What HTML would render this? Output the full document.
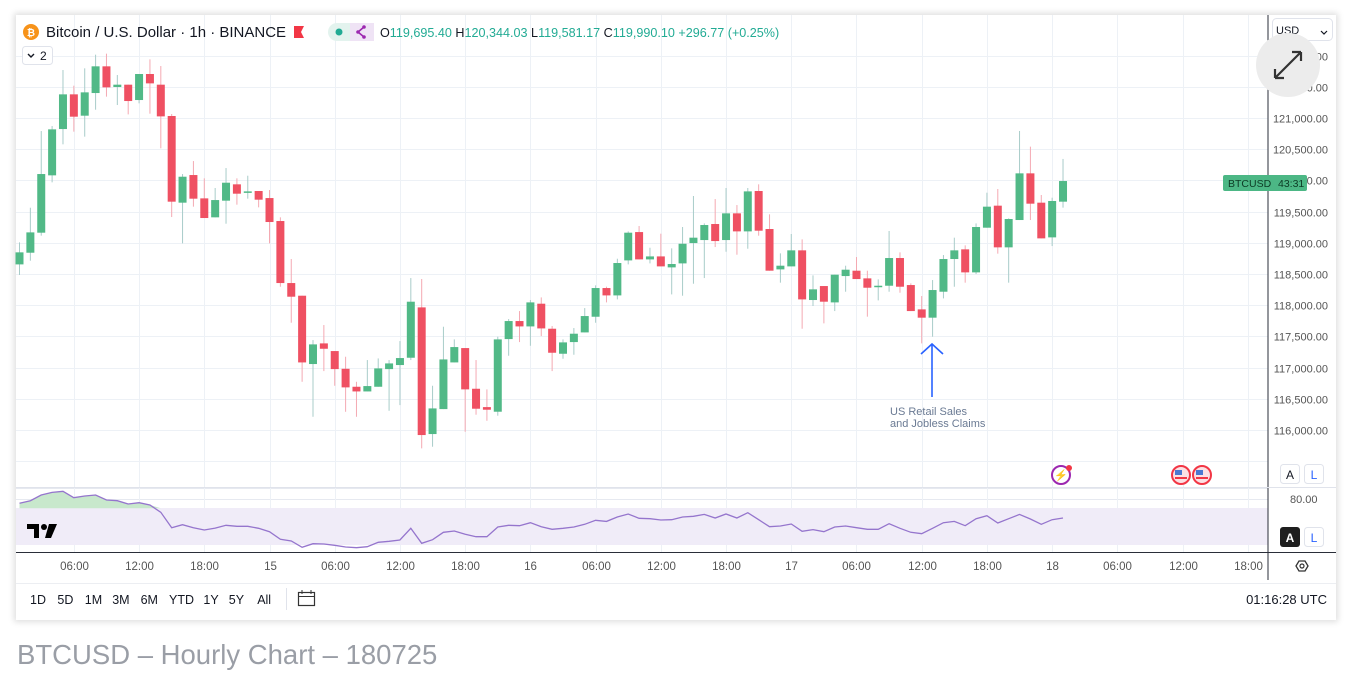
<!DOCTYPE html>
<html><head><meta charset="utf-8">
<style>
html,body{margin:0;padding:0;background:#fff;}
body{width:1362px;height:686px;overflow:hidden;position:relative;font-family:"Liberation Sans",sans-serif;}
#card{position:absolute;left:16px;top:15px;width:1320px;height:605px;background:#fff;box-shadow:0 0 6px 2px rgba(0,0,0,0.13);}
#caption{position:absolute;left:17px;top:639px;font-size:27.5px;color:#9a9ea6;}
svg{position:absolute;left:0;top:0;}
text{font-family:"Liberation Sans",sans-serif;}
</style></head>
<body>
<div id="card"></div>
<div id="caption">BTCUSD – Hourly Chart – 180725</div>
<svg id="chart" width="1362" height="686">
  <g id="grid"></g>
  <rect x="16" y="508" width="1252" height="37" fill="#f0ecf8"/>
  <g id="rsi"></g>
  <g id="candles"></g>
  <g id="axes"></g>
  <line x1="1268" y1="15" x2="1268" y2="580" stroke="#2a2e39" stroke-width="1"/>
  <line x1="16" y1="487.5" x2="1336" y2="487.5" stroke="#e0e3eb"/>
  <line x1="16" y1="552.5" x2="1336" y2="552.5" stroke="#2a2e39"/>
  <line x1="16" y1="583.5" x2="1336" y2="583.5" stroke="#eceef2"/>
  <circle cx="31" cy="32" r="8" fill="#f7931a"/>
  <text x="31" y="36" font-size="10" fill="#fff" text-anchor="middle" font-weight="bold">₿</text>
  <text x="46" y="37" font-size="15" fill="#131722">Bitcoin / U.S. Dollar · 1h · BINANCE</text>
  <path d="M294 26 h10 l-3 6 l3 6 h-10 z" fill="#f23645"/>
  <rect x="328" y="23" width="46" height="18" rx="9" fill="#e3f3ee"/>
  <rect x="350" y="23" width="24" height="18" rx="0" fill="#efe3f5"/>
  <circle cx="339" cy="32" r="3.5" fill="#22ab94"/>
  <path d="M358 32 l6 -5 M358 32 l6 5" stroke="#9c27b0" stroke-width="1.6" fill="none"/>
  <circle cx="358" cy="32" r="1.8" fill="#9c27b0"/><circle cx="364" cy="27" r="1.8" fill="#9c27b0"/><circle cx="364" cy="37" r="1.8" fill="#9c27b0"/>
  <text x="380" y="37" font-size="12.6" fill="#22ab94"><tspan fill="#131722">O</tspan>119,695.40 <tspan fill="#131722">H</tspan>120,344.03 <tspan fill="#131722">L</tspan>119,581.17 <tspan fill="#131722">C</tspan>119,990.10 +296.77 (+0.25%)</text>
  <rect x="22.5" y="46.5" width="30" height="18" rx="3" fill="#fff" stroke="#e0e3eb"/>
  <path d="M28 54 l3 3 l3 -3" stroke="#131722" stroke-width="1.4" fill="none"/>
  <text x="40" y="60" font-size="12" fill="#131722">2</text>
  <rect x="1272.5" y="18.5" width="60" height="22" rx="4" fill="#fff" stroke="#e0e3eb"/>
  <text x="1276" y="34" font-size="11" fill="#131722">USD</text>
  <path d="M1321 31 l3 3 l3 -3" stroke="#131722" stroke-width="1.2" fill="none"/>
  <circle cx="1288" cy="65" r="32" fill="#ececec"/>
  <path d="M1275 78 L1301 52 M1275 78 v-9 M1275 78 h9 M1301 52 h-9 M1301 52 v9" stroke="#333" stroke-width="2.2" fill="none"/>
  <rect x="1223" y="175" width="84" height="16" rx="2" fill="#4cb785"/>
  <text x="1228" y="187" font-size="10.5" fill="#0d3b25">BTCUSD</text>
  <text x="1278" y="187" font-size="10.5" fill="#0d3b25">43:31</text>
  <g>
    <line x1="932" y1="397" x2="932" y2="344" stroke="#2962ff" stroke-width="1.6"/>
    <path d="M921 354 L932 344 L943 354" stroke="#2962ff" stroke-width="1.6" fill="none"/>
    <text x="890" y="415" font-size="11" fill="#6a7a93">US Retail Sales</text>
    <text x="890" y="427" font-size="11" fill="#6a7a93">and Jobless Claims</text>
  </g>
  <g>
    <circle cx="1061" cy="475" r="9" fill="none" stroke="#9c27b0" stroke-width="2"/>
    <text x="1061" y="479" font-size="11" fill="#9c27b0" text-anchor="middle">⚡</text>
    <circle cx="1069" cy="468" r="3" fill="#f23645"/>
    <circle cx="1181" cy="475" r="9" fill="#fbe0e3" stroke="#f23645" stroke-width="2"/>
    <rect x="1175" y="470" width="7" height="5" fill="#4a78d0"/><rect x="1175" y="477" width="12" height="2" fill="#f23645"/>
    <circle cx="1202" cy="475" r="9" fill="#fbe0e3" stroke="#f23645" stroke-width="2"/>
    <rect x="1196" y="470" width="7" height="5" fill="#4a78d0"/><rect x="1196" y="477" width="12" height="2" fill="#f23645"/>
  </g>
  <rect x="1280.5" y="464.5" width="19" height="19" rx="3" fill="#fff" stroke="#e0e3eb"/>
  <text x="1290" y="479" font-size="12" fill="#131722" text-anchor="middle">A</text>
  <rect x="1304.5" y="464.5" width="19" height="19" rx="3" fill="#fff" stroke="#e0e3eb"/>
  <text x="1314" y="479" font-size="12" fill="#2962ff" text-anchor="middle">L</text>
  <rect x="1280" y="527" width="20" height="20" rx="3" fill="#1e1e1e"/>
  <text x="1290" y="542" font-size="12" fill="#fff" text-anchor="middle" font-weight="bold">A</text>
  <rect x="1304.5" y="527.5" width="19" height="19" rx="3" fill="#fff" stroke="#e0e3eb"/>
  <text x="1314" y="542" font-size="12" fill="#2962ff" text-anchor="middle">L</text>
  <text x="1290" y="503" font-size="11" fill="#555">80.00</text>
  <g>
    <path d="M27 524 h12 v14 h-5 v-9 h-7 z" fill="#000"/>
    <circle cx="44" cy="527" r="3" fill="#000"/>
    <path d="M49 524 h8 l-6 14 h-6 z" fill="#000"/>
  </g>
  <path d="M1296 566 l3 -5 h6 l3 5 l-3 5 h-6 z" fill="none" stroke="#333" stroke-width="1.3"/>
  <circle cx="1302" cy="566" r="2" fill="none" stroke="#333" stroke-width="1.2"/>
  <g id="ranges"></g>
  <line x1="286.5" y1="588" x2="286.5" y2="610" stroke="#e0e3eb"/>
  <g>
    <rect x="298.5" y="592.5" width="16" height="13" fill="none" stroke="#333" stroke-width="1.2"/>
    <line x1="298" y1="596.5" x2="315" y2="596.5" stroke="#333"/>
    <line x1="302" y1="590" x2="302" y2="594" stroke="#333"/><line x1="311" y1="590" x2="311" y2="594" stroke="#333"/>
  </g>
  <text x="1327" y="604" font-size="13" fill="#131722" text-anchor="end">01:16:28 UTC</text>
</svg>
<script>
const opens  = [118654,118841,119162,120081,120823,121379,121037,121400,121828,121497,121534,121288,121705,121534,121032,119643,120086,119712,119408,119675,119937,119803,119830,119717,119349,118355,118152,117057,117388,117265,116981,116693,116618,116693,116976,117041,117158,117965,115935,116335,117083,117313,116661,116367,116293,117457,117746,117660,118024,117623,117222,117409,117564,117815,118275,118157,118718,119172,118734,118782,118606,118670,118996,119044,119301,119044,119472,119183,119830,119221,118574,118622,118879,118083,118307,118045,118467,118553,118430,118296,118312,118756,118323,117933,117800,118216,118740,118895,118526,119242,119595,118927,119365,120113,119643,119087,119659];
const closes = [118847,119167,120102,120818,121379,121021,121411,121828,121491,121534,121272,121705,121555,121026,119659,120059,119707,119397,119685,119963,119787,119824,119691,119333,118355,118136,117083,117372,117302,116976,116683,116618,116704,116987,117067,117153,118056,115919,116346,117131,117329,116651,116341,116325,117452,117746,117660,118045,117628,117238,117404,117543,117826,118275,118157,118676,119162,118734,118782,118622,118660,118985,119082,119285,119028,119472,119183,119824,119194,118553,118633,118879,118093,118254,118056,118489,118569,118419,118280,118312,118756,118296,117906,117800,118243,118740,118879,118526,119253,119579,118927,119381,120113,119627,119071,119670,119990];
const highs  = [119007,119562,120791,120871,121769,121518,121796,122015,122031,121689,121534,121705,121940,121833,121064,120102,120310,120033,119878,120198,120033,120075,119830,119846,119408,118740,118152,117441,117682,117265,117174,116773,117121,117147,117121,117425,118435,118419,116709,117655,117452,117313,117121,116651,117495,117778,117906,118083,118125,117666,117452,117634,117954,118318,118297,118745,119183,119269,118921,119146,118911,119253,119750,119311,119701,119878,119605,119878,119937,119456,118831,119141,119055,118478,118307,118489,118633,118772,118553,118414,119189,118847,118350,118147,118403,118804,119082,118959,119311,119803,119862,119392,120792,120541,119766,119723,120344];
const lows   = [118483,118713,119114,119969,120578,120781,120701,121133,121342,121208,121058,121235,121069,120514,119413,118991,119579,119397,119408,119306,119611,119707,119568,118991,118296,117719,116773,116212,116944,116709,116292,116212,116618,116693,116308,116399,117121,115705,115732,116335,117083,115972,116245,116148,116229,117190,117409,117350,117505,116944,117142,117206,117564,117719,118045,118093,118654,118734,118670,118622,118173,118152,118344,118435,118932,118857,118809,118905,119114,118553,118361,118622,117623,117987,117709,117906,118216,118419,117816,118077,118216,118200,117906,117388,117495,118109,118296,118361,118499,119242,118826,118361,119365,119365,119071,118948,119563];
const rsiValues = [75.3,78.2,84.3,87.2,88.4,81.4,83.3,84.3,78.9,78.2,74.6,76,73.5,65.5,48.8,52.1,48.8,46.3,48.4,51.4,50.3,50.3,48.1,44.5,36.2,34.3,27.5,31.4,31.1,29.7,27.8,27.1,28.2,32.9,34,35.4,48.1,31.8,35.8,43.8,45.2,41.6,39,39,49.6,51.4,51,54.2,49.9,47.1,48.1,49.6,52.5,56.8,55.7,60.4,63.7,59,58.6,57.2,57.5,60.4,61.2,63.3,59.3,63.7,59.3,65.1,57.5,49.9,50.7,52.8,44.9,46.7,44.5,49.6,50.7,48.8,47.1,47.1,53.2,48.1,43.8,42.3,48.1,54.2,55.7,51,58.6,61.8,53.9,58.6,63.3,58.3,52.5,57.5,59.3];
const priceTicks = [122000,121500,121000,120500,120000,119500,119000,118500,118000,117500,117000,116500,116000,115500];
const timeLabels = ["06:00","12:00","18:00","15","06:00","12:00","18:00","16","06:00","12:00","18:00","17","06:00","12:00","18:00","18","06:00","12:00","18:00"];
const rangeLabels = ["1D","5D","1M","3M","6M","YTD","1Y","5Y","All"];

const NS="http://www.w3.org/2000/svg";
const X0=19.5, STEP=10.87;
function xAt(i){return X0+STEP*i;}
function yP(p){return 118+(121000-p)/500*31.2;}
function yR(v){return 499+(80-v)*0.92;}
function mk(tag,attrs,parent){const e=document.createElementNS(NS,tag);for(const k in attrs)e.setAttribute(k,attrs[k]);parent.appendChild(e);return e;}
const grid=document.getElementById('grid'),cg=document.getElementById('candles'),ax=document.getElementById('axes'),rg=document.getElementById('rsi');

priceTicks.forEach(p=>{
  const y=Math.round(yP(p))+0.5;
  const l=mk('line',{x1:16,x2:1268,y1:y,y2:y,stroke:'#edf1f6'},grid);
  
  
  if(y>50 && y<455){
    const t=mk('text',{x:1328,y:y+4,'font-size':11,fill:'#555','text-anchor':'end'},ax);
    t.textContent=p.toLocaleString('en-US',{minimumFractionDigits:2});
    
    
  }
});
[488,499,537].forEach(y=>{mk('line',{x1:16,x2:1268,y1:y+0.5,y2:y+0.5,stroke:'#e6e9f0'},grid);});
timeLabels.forEach((s,k)=>{
  const x=Math.round(xAt(5+6*k))+0.5;
  const l=mk('line',{x1:x,x2:x,y1:15,y2:552,stroke:'#edf1f6'},grid);
  
  
  const t=mk('text',{x:x,y:570,'font-size':11.5,fill:'#555','text-anchor':'middle'},ax);
  t.textContent=s;
  
  
});
opens.forEach((o,i)=>{
  const c=closes[i],up=c>=o,x=xAt(i);
  const w=mk('line',{x1:x,x2:x,y1:yP(highs[i]),y2:yP(lows[i]),stroke:up?'#a8ccc9':'#f4a9b2','stroke-width':1},cg);
  
  
  const top=yP(Math.max(o,c)),bot=yP(Math.min(o,c));
  const b=mk('rect',{x:x-4,y:top,width:8,height:Math.max(1.5,bot-top),fill:up?'#51b987':'#ef5062'},cg);
  
  
});
let d='';
rsiValues.forEach((v,i)=>{d+=(i?'L':'M')+xAt(i).toFixed(1)+' '+yR(v).toFixed(1);});
let fill='';
rsiValues.forEach((v,i)=>{fill+=(i?'L':'M')+xAt(i).toFixed(1)+' '+Math.min(yR(v),yR(70)).toFixed(1);});
fill+='L'+xAt(rsiValues.length-1)+' '+yR(70)+'L'+xAt(0)+' '+yR(70)+'Z';
const f=mk('path',{d:fill,fill:'#c8e8cc'},rg);


const rl=mk('path',{d:d,fill:'none',stroke:'#9575cd','stroke-width':1.3},rg);


const rgEl=document.getElementById('ranges');
let rx=30;
const rw=[20,20,20,21,21,27,18,21,20];
rangeLabels.forEach((s,k)=>{
  const t=mk('text',{x:rx,y:604,'font-size':12.5,fill:'#131722'},rgEl);
  t.textContent=s;
  
  
  rx+=rw[k]+7.4;
});
</script>
</body></html>
